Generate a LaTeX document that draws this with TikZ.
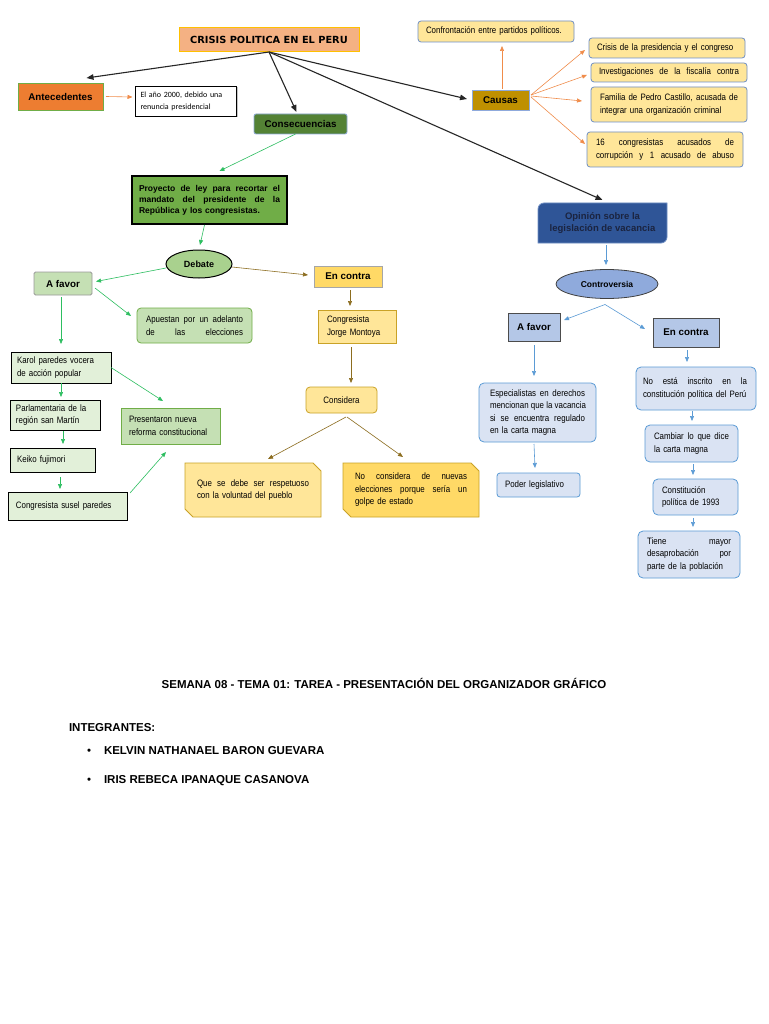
\documentclass[tikz,border=0pt]{standalone}
\usepackage{fontspec}
\setmainfont{Liberation Sans}
\newfontfamily\titlefont{DejaVu Sans}
\newfontfamily\calfont{Carlito}
\newfontfamily\narrowfont[FakeStretch=0.85,WordSpace=0.8]{Liberation Sans}
\usetikzlibrary{arrows.meta,shapes.geometric,calc,shadows,backgrounds}

\definecolor{peach}{HTML}{F4B183}
\definecolor{goldbd}{HTML}{FFC000}
\definecolor{orangef}{HTML}{ED7D31}
\definecolor{dkgreen}{HTML}{548235}
\definecolor{greenf}{HTML}{70AD47}
\definecolor{debatef}{HTML}{A9D18E}
\definecolor{lgreen}{HTML}{C5E0B4}
\definecolor{vlgreen}{HTML}{E2F0D9}
\definecolor{greenbd}{HTML}{70AD47}
\definecolor{yellowf}{HTML}{FFD966}
\definecolor{lyellow}{HTML}{FFE699}
\definecolor{ybd}{HTML}{C9A227}
\definecolor{causasf}{HTML}{BF9000}
\definecolor{bluebd}{HTML}{8FAADC}
\definecolor{bluebd2}{HTML}{6F8FC4}
\definecolor{opinf}{HTML}{2F5597}
\definecolor{navytext}{HTML}{1B2440}
\definecolor{controf}{HTML}{8FAADC}
\definecolor{midblue}{HTML}{B4C7E7}
\definecolor{paleblue}{HTML}{DAE3F3}
\definecolor{arrgreen}{HTML}{2DBE60}
\definecolor{arrorange}{HTML}{F08C4A}
\definecolor{arrbrown}{HTML}{8C6D1F}
\definecolor{arrblue}{HTML}{5B9BD5}

\newcommand{\jl}[2]{\leavevmode\hbox to #1pt{\spaceskip=0.24em plus 1fil\xspaceskip=0.24em plus 1fil\relax #2}}

\tikzset{
  every node/.style={inner sep=0pt, outer sep=0pt},
  sm/.style={font=\narrowfont\fontsize{9.3}{12.5}\selectfont, align=left},
  lbl/.style={font=\fontsize{9.8}{11}\selectfont\bfseries, align=center},
  blk/.style={draw=black!85, line width=1.1pt, -{Triangle[length=7pt,width=5.5pt]}},
  gar/.style={draw=arrgreen, line width=0.6pt, -{Triangle[length=5pt,width=4pt]}},
  oar/.style={draw=arrorange, line width=0.6pt, -{Triangle[length=5pt,width=4pt]}},
  yar/.style={draw=arrbrown, line width=0.6pt, -{Triangle[length=5pt,width=4pt]}},
  bar/.style={draw=arrblue, line width=0.6pt, -{Triangle[length=5pt,width=4pt]}},
  gbox/.style={sm, fill=vlgreen, draw=black, line width=0.8pt},
  ybox/.style={sm, fill=lyellow, draw=bluebd2, line width=0.8pt, rounded corners=3pt},
  bbox/.style={sm, fill=paleblue, draw=arrblue, line width=0.8pt, rounded corners=5pt},
}

\begin{document}
\begin{tikzpicture}[x=1pt,y=1pt]
\begin{scope}[on background layer]
\fill[white] (0,0) rectangle (768,-1024);
\end{scope}
\useasboundingbox (0,0) rectangle (768,-1024);

% ---------- top ----------
\node[lbl, fill=peach, draw=goldbd, line width=1pt, minimum width=180pt, minimum height=24pt,
      font=\titlefont\fontsize{9.8}{11}\selectfont\bfseries] (crisis) at (269,-40) {CRISIS POLITICA EN EL PERU};

\node[lbl, fill=orangef, draw=greenbd, line width=0.8pt, minimum width=85pt, minimum height=27pt] (antec) at (60.5,-96.5) {Antecedentes};

\node[sm, fill=white, draw=black, line width=0.7pt, text width=91pt, inner xsep=5pt, minimum height=30pt,
      font=\calfont\fontsize{8}{12}\selectfont,
      drop shadow={shadow xshift=1.2pt, shadow yshift=-1.2pt, fill=black!45}] (ano) at (186,-101) {El año 2000, debido una\\renuncia presidencial};

\node[lbl, fill=dkgreen, draw=bluebd, line width=0.8pt, rounded corners=2pt, minimum width=93pt, minimum height=20pt] (conse) at (300.5,-124) {Consecuencias};

\node[font=\fontsize{8.5}{11}\selectfont\bfseries, align=left, fill=greenf, draw=black, line width=1.2pt,
      text width=141pt, inner xsep=7pt, minimum height=48pt] (proy) at (209.5,-200)
      {\jl{141}{Proyecto de ley para recortar el}\\\jl{141}{mandato del presidente de la}\\República y los congresistas.};

\node[ellipse, fill=debatef, draw=black, line width=1pt, minimum width=66pt, minimum height=28pt,
      font=\fontsize{9}{10}\selectfont\bfseries] (debate) at (199,-264) {Debate};

% ---------- left branch ----------
\node[lbl, fill=lgreen, draw=black!40, line width=0.8pt, rounded corners=1.5pt, minimum width=58pt, minimum height=23pt] (afavL) at (63,-283.5) {A favor};

\node[sm, fill=lgreen, draw=greenbd, line width=0.8pt, rounded corners=4pt, text width=97pt, inner xsep=9pt, minimum height=35pt] (apuestan) at (194.5,-325.5)
      {\jl{97}{Apuestan por un adelanto}\\\jl{97}{de las elecciones}};

\node[gbox, text width=88pt, inner xsep=6pt, minimum height=31pt] (karol) at (61,-367.5) {Karol paredes vocera\\de acción popular};
\node[gbox, text width=78pt, inner xsep=6pt, minimum height=30pt] (parla) at (55,-415) {Parlamentaria de la\\región san Martín};
\node[gbox, text width=71pt, inner xsep=7pt, minimum height=24pt] (keiko) at (52.5,-460) {Keiko fujimori};
\node[gbox, text width=103pt, inner xsep=8pt, minimum height=28pt] (susel) at (67.5,-506) {Congresista susel paredes};
\node[sm, fill=lgreen, draw=greenbd, line width=0.8pt, text width=83pt, inner xsep=8pt, minimum height=36pt] (present) at (170.5,-426) {Presentaron nueva\\reforma constitucional};

% ---------- middle branch ----------
\node[lbl, fill=yellowf, draw=black!35, line width=0.8pt, minimum width=68pt, minimum height=21pt] (encM) at (348,-276.5) {En contra};
\node[sm, fill=lyellow, draw=ybd, line width=0.8pt, text width=60pt, inner xsep=9pt, minimum height=33pt] (jorge) at (357,-326.5) {Congresista\\Jorge Montoya};
\node[sm, fill=lyellow, draw=ybd, line width=0.8pt, rounded corners=4pt, minimum width=71pt, minimum height=26pt] (consid) at (341.5,-400) {Considera};

\node[sm, text width=112pt, inner xsep=12pt, minimum height=54pt] (que) at (253,-490)
      {\jl{112}{Que se debe ser respetuoso}\\con la voluntad del pueblo};
\node[sm, text width=112pt, inner xsep=12pt, minimum height=54pt] (nocons) at (411,-490)
      {\jl{112}{No considera de nuevas}\\\jl{112}{elecciones porque sería un}\\golpe de estado};
\begin{scope}[on background layer]
\filldraw[fill=lyellow, draw=ybd, line width=0.8pt] (que.north west) -- ($(que.north east)+(-8,0)$) -- ($(que.north east)+(0,-8)$) -- (que.south east) -- ($(que.south west)+(8,0)$) -- ($(que.south west)+(0,8)$) -- cycle;
\filldraw[fill=yellowf, draw=ybd, line width=0.8pt] (nocons.north west) -- ($(nocons.north east)+(-8,0)$) -- ($(nocons.north east)+(0,-8)$) -- (nocons.south east) -- ($(nocons.south west)+(8,0)$) -- ($(nocons.south west)+(0,8)$) -- cycle;
\end{scope}

% ---------- causas ----------
\node[ybox, text width=140pt, inner xsep=8pt, minimum height=21pt] (confr) at (496,-31.5) {Confrontación entre partidos políticos.};
\node[lbl, fill=causasf, draw=bluebd, line width=0.8pt, minimum width=57pt, minimum height=20pt] (causas) at (500.5,-100) {Causas};
\node[ybox, text width=140pt, inner xsep=8pt, minimum height=20pt] (crisisP) at (667,-48) {Crisis de la presidencia y el congreso};
\node[ybox, text width=140pt, inner xsep=8pt, minimum height=19pt] (invest) at (669,-72.5) {\jl{140}{Investigaciones de la fiscalía contra}};
\node[ybox, text width=138pt, inner xsep=9pt, minimum height=35pt] (familia) at (669,-104.5)
      {\jl{138}{Familia de Pedro Castillo, acusada de}\\integrar una organización criminal};
\node[ybox, text width=138pt, inner xsep=9pt, minimum height=35pt] (sixteen) at (665,-149.5)
      {\jl{138}{16 congresistas acusados de}\\\jl{138}{corrupción y 1 acusado de abuso}};

% ---------- opinion branch ----------
\node[font=\fontsize{9.5}{12.5}\selectfont\bfseries, text=navytext, align=center, minimum width=129pt, minimum height=40pt] (opin) at (602.5,-223) {Opinión sobre la\\legislación de vacancia};
\begin{scope}[on background layer]
\filldraw[fill=opinf, draw=bluebd2, line width=0.8pt] (opin.north east) -- ($(opin.south east)+(0,6)$) arc[start angle=0,end angle=-90,radius=6] -- (opin.south west) -- ($(opin.north west)+(0,-6)$) arc[start angle=180,end angle=90,radius=6] -- cycle;
\end{scope}

\node[ellipse, fill=controf, draw=black!75, line width=0.8pt, minimum width=102pt, minimum height=29pt,
      font=\fontsize{8.5}{10}\selectfont\bfseries] (contro) at (607,-284) {Controversia};
\node[lbl, fill=midblue, draw=black!70, line width=0.8pt, minimum width=52pt, minimum height=28pt] (afavR) at (534,-327) {A favor};
\node[lbl, fill=midblue, draw=black!70, line width=0.8pt, minimum width=66pt, minimum height=29pt] (encR) at (686,-332.5) {En contra};

\node[bbox, text width=95pt, inner xsep=11pt, minimum height=59pt] (espec) at (537.5,-412.5)
      {\jl{95}{Especialistas en derechos}\\\jl{95}{mencionan que la vacancia}\\\jl{95}{si se encuentra regulado}\\en la carta magna};
\node[bbox, rounded corners=3pt, text width=67pt, inner xsep=8pt, minimum height=24pt] (poder) at (538.5,-485) {Poder legislativo};
\node[bbox, text width=106pt, inner xsep=7pt, minimum height=43pt] (noesta) at (696,-388.5)
      {\jl{104}{No está inscrito en la}\\constitución política del Perú};
\node[bbox, text width=75pt, inner xsep=9pt, minimum height=37pt] (cambiar) at (691.5,-443.5)
      {\jl{75}{Cambiar lo que dice}\\la carta magna};
\node[bbox, text width=67pt, inner xsep=9pt, minimum height=36pt] (const) at (695.5,-497)
      {Constitución\\política de 1993};
\node[bbox, text width=84pt, inner xsep=9pt, minimum height=47pt] (tiene) at (689,-554.5)
      {\jl{84}{Tiene mayor}\\\jl{84}{desaprobación por}\\parte de la población};

% ---------- bottom text ----------
\node[anchor=base, font=\fontsize{11.5}{13}\selectfont\bfseries] (semana) at (384,-688) {SEMANA 08 - TEMA 01: TAREA - PRESENTACIÓN DEL ORGANIZADOR GRÁFICO};
\node[anchor=base west, font=\fontsize{11.5}{13}\selectfont\bfseries] (integ) at (69,-731) {INTEGRANTES:};
\node[anchor=base west, font=\fontsize{11.5}{13}\selectfont] (bul1) at (87,-754) {\textbullet};
\node[anchor=base west, font=\fontsize{11.5}{13}\selectfont\bfseries] (name1) at (104,-754) {KELVIN NATHANAEL BARON GUEVARA};
\node[anchor=base west, font=\fontsize{11.5}{13}\selectfont] (bul2) at (87,-783) {\textbullet};
\node[anchor=base west, font=\fontsize{11.5}{13}\selectfont\bfseries] (name2) at (104,-783) {IRIS REBECA IPANAQUE CASANOVA};

% ---------- connectors ----------
\draw[blk] (crisis.south) -- ($(antec.north)+(26,5)$);
\draw[blk] (crisis.south) -- ($(conse.north)+(-4,2)$);
\draw[blk] (crisis.south) -- ($(causas.west)+(-5,1)$);
\draw[blk] (crisis.south) -- ($(opin.north)+(0,3)$);

\draw[oar] ($(antec.east)+(3,0)$) -- ($(ano.west)+(-3,4)$);
\draw[gar] ($(conse.south)+(-5,0)$) -- ($(proy.north)+(10,5)$);
\draw[gar] ($(proy.south)+(-5,-1)$) -- ($(debate.north)+(1,5)$);
\draw[gar] ($(debate.west)+(0,-4)$) -- ($(afavL.east)+(4,2)$);
\draw[yar] ($(debate.east)+(0,-3)$) -- ($(encM.west)+(-6,1.5)$);
\draw[gar] ($(afavL.east)+(3,-4.5)$) -- ($(apuestan.west)+(-6,9.5)$);
\draw[gar] ($(afavL.south)+(-2,-2)$) -- ($(karol.north)+(0,8)$);
\draw[gar] (karol.south) -- ($(parla.north)+(6,3)$);
\draw[gar] ($(parla.south)+(8,-1)$) -- ($(keiko.north)+(10.5,4)$);
\draw[gar] ($(keiko.south)+(7.5,-5)$) -- ($(susel.north)+(-7.5,3)$);
\draw[gar] (karol.east) -- ($(present.north)+(-7.5,7)$);
\draw[gar] ($(susel.east)+(3,13)$) -- ($(present.south)+(-4.5,-8)$);

\draw[yar] ($(encM.south)+(2,-3)$) -- ($(jorge.north)+(-7,4)$);
\draw[yar] ($(jorge.south)+(-6,-4)$) -- ($(consid.north)+(9.5,4)$);
\draw[yar] ($(consid.south)+(4.5,-4)$) -- ($(que.north)+(15,4)$);
\draw[yar] ($(consid.south)+(5.5,-4)$) -- ($(nocons.north)+(-8,6)$);

\draw[oar] ($(causas.north)+(1.5,1)$) -- ($(confr.south)+(6,-4)$);
\draw[oar] ($(causas.east)+(2,5)$) -- ($(crisisP.west)+(-4,-2)$);
\draw[oar] ($(causas.east)+(2,5)$) -- ($(invest.west)+(-4,-2.5)$);
\draw[oar] ($(causas.east)+(2,4)$) -- ($(familia.west)+(-9,3.5)$);
\draw[oar] ($(causas.east)+(2,3)$) -- ($(sixteen.west)+(-2,5.5)$);

\draw[bar] ($(opin.south)+(3.5,-2)$) -- ($(contro.north)+(-1,4.5)$);
\draw[bar] ($(contro.south)+(-2,-6)$) -- ($(afavR.north east)+(4,-7)$);
\draw[bar] ($(contro.south)+(-2,-6)$) -- ($(encR.west)+(-8,3.5)$);
\draw[bar] ($(afavR.south)+(0,-4)$) -- ($(espec.north)+(-3.5,7)$);
\draw[bar] ($(espec.south)+(-3.5,-2)$) -- ($(poder.north)+(-3.5,5)$);
\draw[bar] ($(encR.south)+(1,-3)$) -- ($(noesta.north)+(-9,5)$);
\draw[bar] ($(noesta.south)+(-4,-1)$) -- ($(cambiar.north)+(0.5,4)$);
\draw[bar] ($(cambiar.south)+(1.5,-2)$) -- ($(const.north)+(-2.5,4)$);
\draw[bar] ($(const.south)+(-2.5,-3)$) -- ($(tiene.north)+(4,4)$);
\end{tikzpicture}
\end{document}
